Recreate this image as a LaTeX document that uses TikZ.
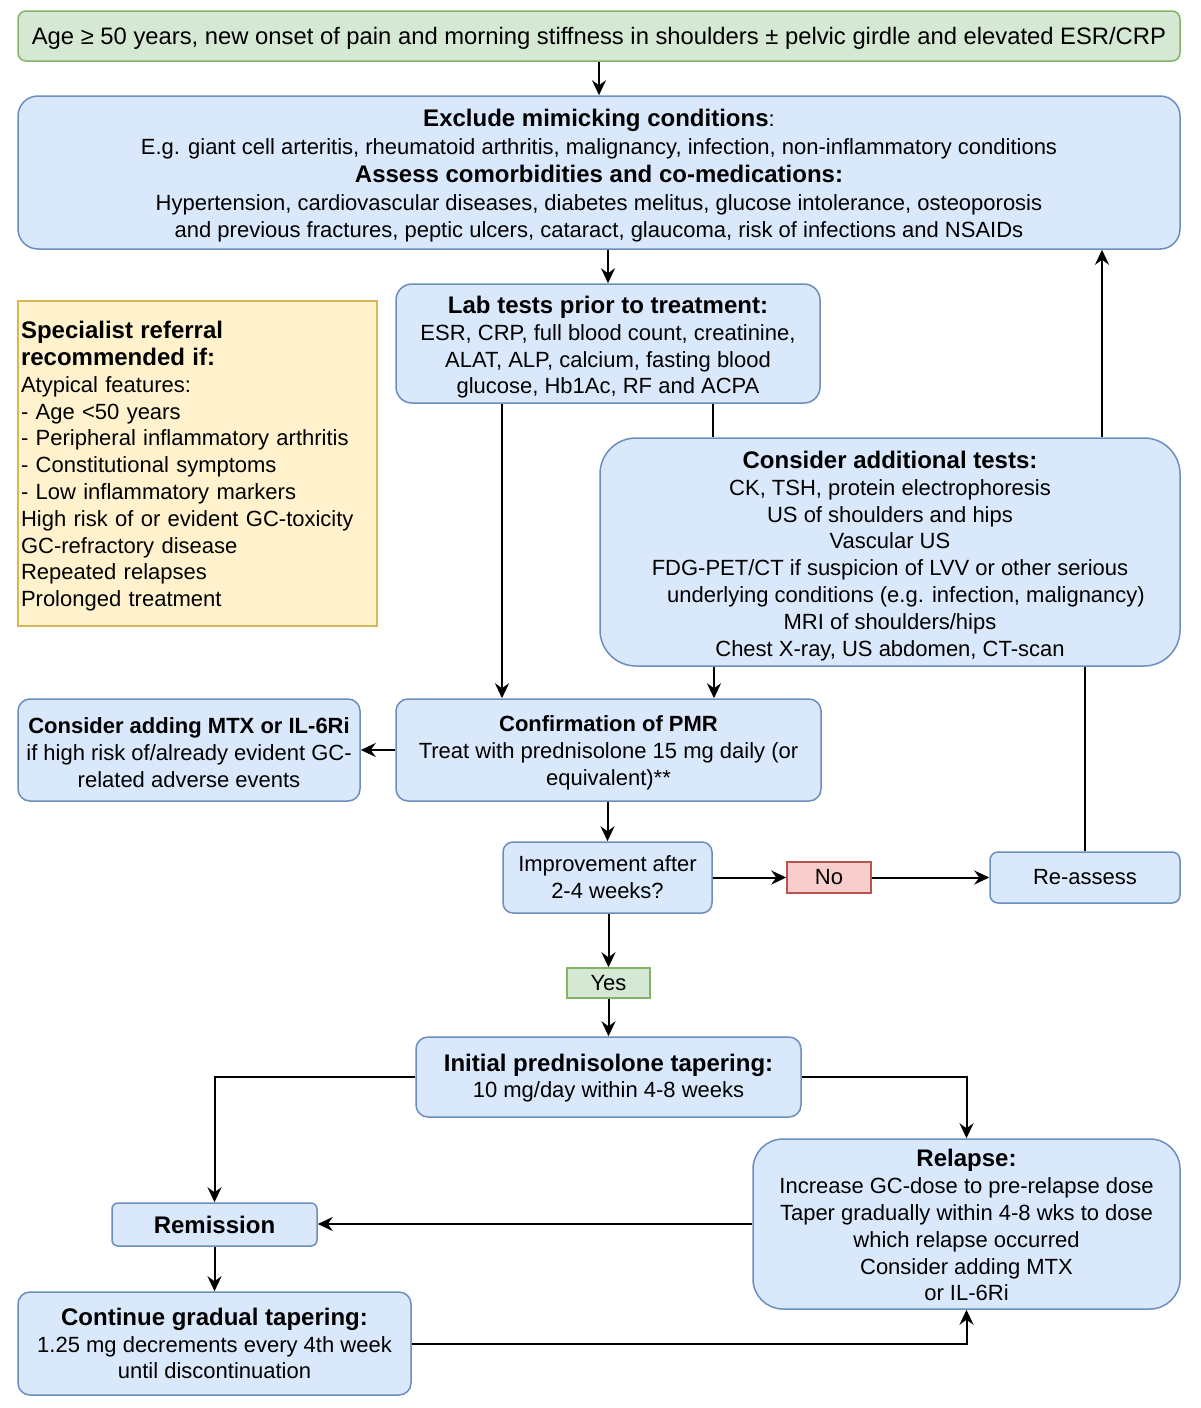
\documentclass[tikz,border=0pt]{standalone}
\usepackage{fontspec}
\setmainfont{Liberation Sans}
\usetikzlibrary{arrows.meta,calc}
\definecolor{bfill}{HTML}{DAE8FC}
\definecolor{bline}{HTML}{6C8EBF}
\definecolor{gfill}{HTML}{D5E8D4}
\definecolor{gline}{HTML}{82B366}
\definecolor{yfill}{HTML}{FFF2CC}
\definecolor{yline}{HTML}{D6B656}
\definecolor{rfill}{HTML}{F8CECC}
\definecolor{rline}{HTML}{B85450}
\newcommand{\hdtxt}[1]{{\fontsize{12}{13.4}\selectfont\bfseries #1}}
\newcommand{\strutto}[1]{\rule{0pt}{#1}}
\begin{document}
\begin{tikzpicture}[x=0.5pt,y=-0.5pt,
  font=\fontsize{11}{13.4}\selectfont,
  box/.style={draw=bline, fill=bfill, line width=0.75pt, align=center, inner sep=0pt},
  gbox/.style={box, draw=gline, fill=gfill},
  ybox/.style={box, draw=yline, fill=yfill},
  rbox/.style={box, draw=rline, fill=rfill},
  lower/.style={execute at begin node={\rule{0pt}{#1}}},
  arr/.style={-{Stealth[length=7.5pt,width=7pt,inset=2.5pt]}, line width=1pt},
  ln/.style={line width=1pt}]
\useasboundingbox (0,0) rectangle (1200,1408);

\node[gbox, rounded corners=4pt, minimum width=581pt, minimum height=25pt, lower=10.5pt,
      font=\fontsize{11.9}{14}\selectfont] (top) at (599,36)
  {Age ≥ 50 years, new onset of pain and morning stiffness in shoulders ± pelvic girdle and elevated ESR/CRP};

\node[box, rounded corners=10pt, minimum width=581pt, minimum height=76.5pt] (excl) at (599,172.5)
  {\strutto{11.8pt}\hdtxt{Exclude mimicking conditions}:\\[0.7pt]
   E.g. giant cell arteritis, rheumatoid arthritis, malignancy, infection, non-inflammatory conditions\\[0.7pt]
   \hdtxt{Assess comorbidities and co-medications:}\\[0.7pt]
   Hypertension, cardiovascular diseases, diabetes melitus, glucose intolerance, osteoporosis\\
   and previous fractures, peptic ulcers, cataract, glaucoma, risk of infections and NSAIDs};

\node[box, rounded corners=8pt, minimum width=212pt, minimum height=59.5pt] (lab) at (608,343.5)
  {\strutto{12.5pt}\hdtxt{Lab tests prior to treatment:}\\
   ESR, CRP, full blood count, creatinine,\\
   ALAT, ALP, calcium, fasting blood\\
   glucose, Hb1Ac, RF and ACPA};

\node[ybox, align=left, text width=176.5pt, inner xsep=1.5pt, minimum height=162.5pt, lower=11.5pt] (spec) at (197.5,463.5)
  {\hdtxt{Specialist referral}\\
   \hdtxt{recommended if:}\\
   Atypical features:\\
   - Age <50 years\\
   - Peripheral inflammatory arthritis\\
   - Constitutional symptoms\\
   - Low inflammatory markers\\
   High risk of or evident GC-toxicity\\
   GC-refractory disease\\
   Repeated relapses\\
   Prolonged treatment};

\node[box, rounded corners=18pt, minimum width=290pt, minimum height=114pt] (add) at (890,552)
  {\strutto{12.5pt}\hdtxt{Consider additional tests:}\\
   CK, TSH, protein electrophoresis\\
   US of shoulders and hips\\
   Vascular US\\
   FDG-PET/CT if suspicion of LVV or other serious\\
   \hspace*{16pt}underlying conditions (e.g. infection, malignancy)\\
   MRI of shoulders/hips\\
   Chest X-ray, US abdomen, CT-scan};

\node[box, rounded corners=6pt, minimum width=212.5pt, minimum height=51pt] (conf) at (608.5,750)
  {\strutto{11pt}\textbf{Confirmation of PMR}\\
   Treat with prednisolone 15 mg daily (or\\
   equivalent)**};

\node[box, rounded corners=6pt, minimum width=171pt, minimum height=51pt] (mtx) at (189,750)
  {\strutto{10.5pt}\textbf{Consider adding MTX or IL-6Ri}\\
   if high risk of/already evident GC-\\
   related adverse events};

\node[box, rounded corners=5pt, minimum width=104.5pt, minimum height=35.5pt] (impr) at (607.5,877.5)
  {Improvement after\\2-4 weeks?};

\node[rbox, minimum width=42pt, minimum height=15.5pt] (no) at (829,877.5) {No};

\node[box, rounded corners=4pt, minimum width=95pt, minimum height=25.5pt] (reas) at (1085,877.5) {Re-assess};

\node[gbox, minimum width=41.5pt, minimum height=15pt] (yes) at (608.5,983) {Yes};

\node[box, rounded corners=6pt, minimum width=192.5pt, minimum height=40pt] (init) at (608.5,1077)
  {\strutto{9.8pt}\hdtxt{Initial prednisolone tapering:}\\
   10 mg/day within 4-8 weeks};

\node[box, rounded corners=15pt, minimum width=213.5pt, minimum height=85pt] (rel) at (966.5,1224)
  {\strutto{10pt}\hdtxt{Relapse:}\\
   Increase GC-dose to pre-relapse dose\\
   Taper gradually within 4-8 wks to dose\\
   which relapse occurred\\
   Consider adding MTX\\
   or IL-6Ri};

\node[box, rounded corners=3pt, minimum width=102.5pt, minimum height=21.5pt, font=\fontsize{12}{14}\selectfont\bfseries] (rem) at (214.5,1224.5) {Remission};

\node[box, rounded corners=6pt, minimum width=196.5pt, minimum height=51.5pt] (cont) at (214.5,1343.5)
  {\hdtxt{Continue gradual tapering:}\\
   1.25 mg decrements every 4th week\\
   until discontinuation};

% connectors
\draw[arr] (top.south) -- (excl.north);
\draw[arr] (lab.north |- excl.south) -- (lab.north);
\draw[arr] (502,0 |- lab.south) -- (502,0 |- conf.north);
\draw[ln]  (713,0 |- lab.south) -- (713,0 |- add.north);
\draw[arr] (714,0 |- add.south) -- (714,0 |- conf.north);
\draw[arr] (1102,0 |- add.north) -- (1102,0 |- excl.south);
\draw[arr] (conf.west) -- (mtx.east);
\draw[arr] (conf.south -| impr.north) -- (impr.north);
\draw[arr] (impr.east) -- (no.west);
\draw[arr] (no.east) -- (reas.west);
\draw[ln]  (reas.north) -- (reas.north |- add.south);
\draw[arr] (impr.south -| yes.north) -- (yes.north);
\draw[arr] (yes.south) -- (init.north);
\draw[arr] (init.west) -| (rem.north);
\draw[arr] (init.east) -| (rel.north);
\draw[arr] (rel.west) -- (rel.west -| rem.east);
\draw[arr] (rem.south) -- (cont.north);
\draw[arr] (cont.east) -| (rel.south);
\end{tikzpicture}
\end{document}
